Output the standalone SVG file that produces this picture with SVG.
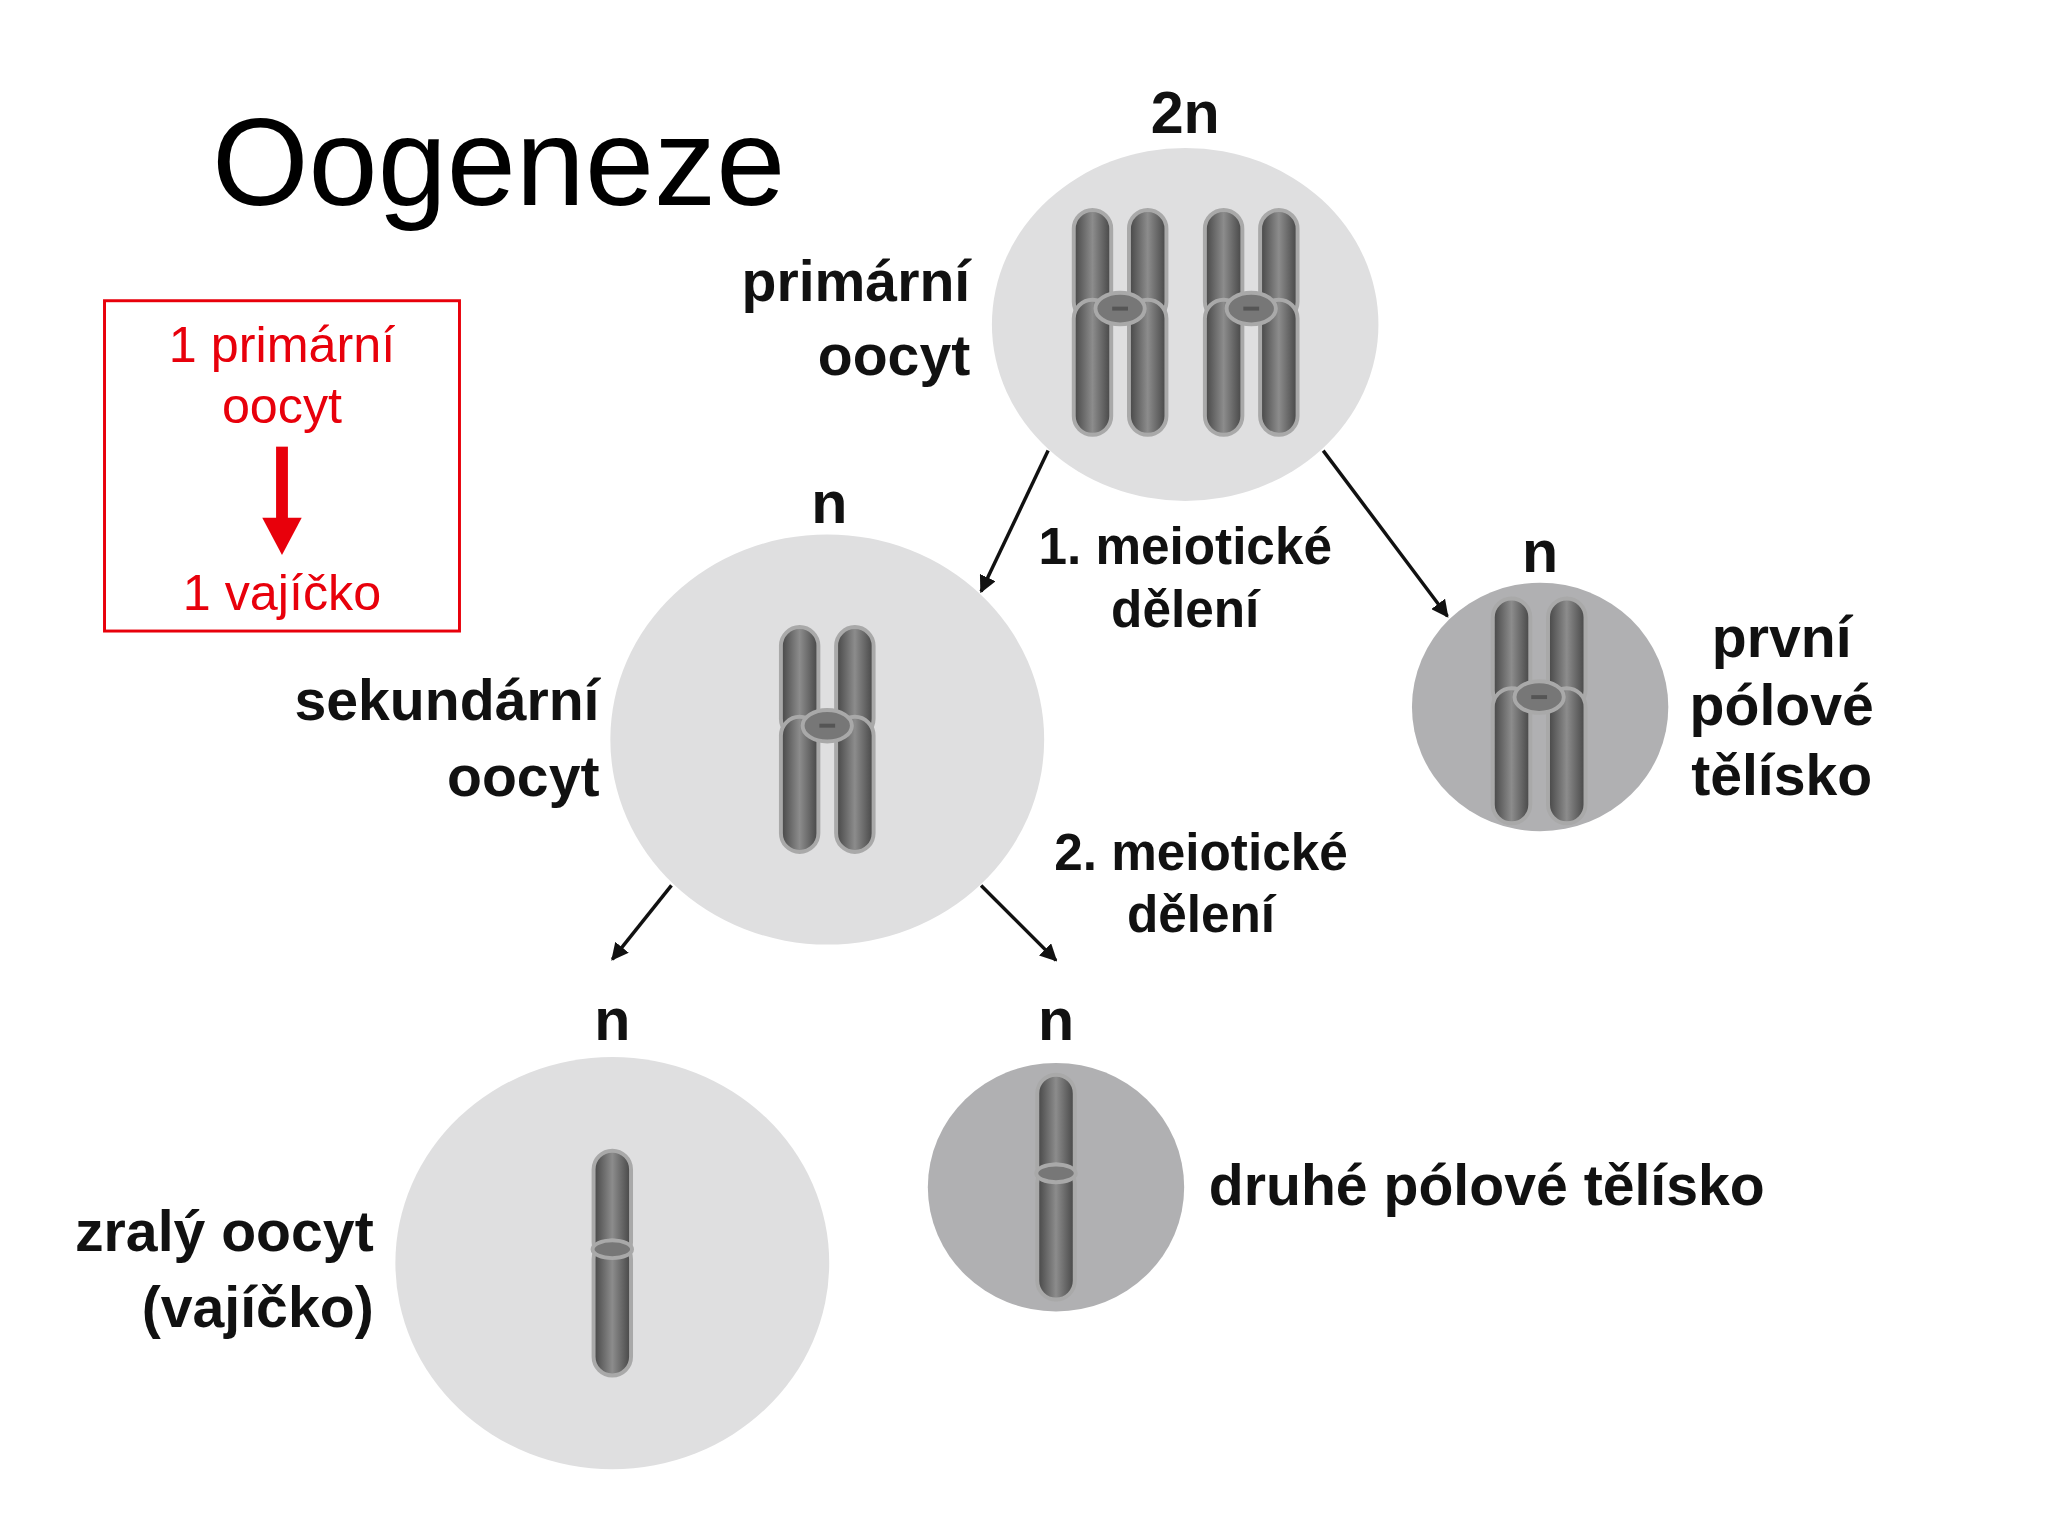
<svg xmlns="http://www.w3.org/2000/svg" xmlns:xlink="http://www.w3.org/1999/xlink" width="2048" height="1536" viewBox="0 0 2048 1536">
<style>
.b{font-family:"Liberation Sans",Arial,sans-serif;font-weight:bold;font-size:58px;fill:#111}
.n{font-size:60px}
.d{font-size:52px}
.r{font-family:"Liberation Sans",Arial,sans-serif;font-size:51px;fill:#e8000b;text-anchor:middle}
.cell{fill:#dfdfe0}
.pb{fill:#b0b0b2}
.ch{fill:url(#g);stroke:#a9a9a9;stroke-width:4}
.cm{fill:#777;stroke:#a9a9a9;stroke-width:4}
.con{stroke:#111;stroke-width:3.5;fill:none;marker-end:url(#ah)}
</style>
<defs>
<linearGradient id="g" x1="0" x2="1" y1="0" y2="0">
<stop offset="0" stop-color="#454545"/><stop offset="0.5" stop-color="#8c8c8c"/><stop offset="1" stop-color="#454545"/>
</linearGradient>
<marker id="ah" viewBox="0 0 10 10" refX="9" refY="5" markerWidth="5" markerHeight="5" orient="auto" markerUnits="strokeWidth">
<path d="M0,0 L10,5 L0,10 z" fill="#111"/>
</marker>
<g id="X">
<rect class="ch" x="-47" y="-97" width="38" height="112" rx="19"/>
<rect class="ch" x="9" y="-97" width="38" height="112" rx="19"/>
<rect class="ch" x="-47" y="-6" width="38" height="137" rx="19"/>
<rect class="ch" x="9" y="-6" width="38" height="137" rx="19"/>
<ellipse class="cm" cx="0" cy="3" rx="25" ry="16"/>
<rect x="-8" y="1" width="16" height="4" fill="#555"/>
</g>
<g id="I">
<rect class="ch" x="-19" y="-97" width="38" height="112" rx="19"/>
<rect class="ch" x="-19" y="-6" width="38" height="137" rx="19"/>
<ellipse class="cm" cx="0" cy="3" rx="20" ry="9"/>
</g>
</defs>
<rect width="2048" height="1536" fill="#fff"/>
<g transform="scale(0.986)">
<text x="215" y="208" style="font-family:'Liberation Sans',Arial,sans-serif;font-size:126px;fill:#000">Oogeneze</text>
<g id="legend">
<rect x="106" y="305" width="360" height="335" fill="none" stroke="#e8000b" stroke-width="3"/>
<text class="r" x="286" y="367">1 primární</text>
<text class="r" x="286" y="429">oocyt</text>
<rect x="280" y="453" width="12" height="75" fill="#e8000b"/>
<path d="M266,525 L306,525 L286,563 z" fill="#e8000b"/>
<text class="r" x="286" y="619">1 vajíčko</text>
</g>
<g id="connectors">
<line class="con" x1="1063" y1="457" x2="995" y2="600"/>
<line class="con" x1="1342" y1="457" x2="1468" y2="625"/>
<line class="con" x1="681" y1="898" x2="621" y2="973"/>
<line class="con" x1="995" y1="898" x2="1071" y2="974"/>
</g>
<g id="primary">
<ellipse class="cell" cx="1202" cy="329" rx="196" ry="179"/>
<use xlink:href="#X" x="1136" y="310"/>
<use xlink:href="#X" x="1269" y="310"/>
<text class="b n" x="1202" y="135" text-anchor="middle">2n</text>
<text class="b" x="984" y="305" text-anchor="end">primární</text>
<text class="b" x="984" y="380" text-anchor="end">oocyt</text>
</g>
<g id="secondary">
<ellipse class="cell" cx="839" cy="750" rx="220" ry="208"/>
<use xlink:href="#X" x="839" y="733"/>
<text class="b n" x="841" y="530" text-anchor="middle">n</text>
<text class="b" x="608" y="730" text-anchor="end">sekundární</text>
<text class="b" x="608" y="807" text-anchor="end">oocyt</text>
</g>
<g id="division1">
<text class="b d" x="1202" y="572" text-anchor="middle">1. meiotické</text>
<text class="b d" x="1202" y="636" text-anchor="middle">dělení</text>
</g>
<g id="polar1">
<ellipse class="pb" cx="1562" cy="717" rx="130" ry="126"/>
<use xlink:href="#X" x="1561" y="704"/>
<text class="b n" x="1562" y="580" text-anchor="middle">n</text>
<text class="b" x="1807" y="666" text-anchor="middle">první</text>
<text class="b" x="1807" y="735" text-anchor="middle">pólové</text>
<text class="b" x="1807" y="806" text-anchor="middle">tělísko</text>
</g>
<g id="division2">
<text class="b d" x="1218" y="882" text-anchor="middle">2. meiotické</text>
<text class="b d" x="1218" y="945" text-anchor="middle">dělení</text>
</g>
<g id="egg">
<ellipse class="cell" cx="621" cy="1281" rx="220" ry="209"/>
<use xlink:href="#I" x="621" y="1264"/>
<text class="b n" x="621" y="1055" text-anchor="middle">n</text>
<text class="b" x="379" y="1269" text-anchor="end">zralý oocyt</text>
<text class="b" x="379" y="1346" text-anchor="end">(vajíčko)</text>
</g>
<g id="polar2">
<ellipse class="pb" cx="1071" cy="1204" rx="130" ry="126"/>
<use xlink:href="#I" x="1071" y="1187"/>
<text class="b n" x="1071" y="1055" text-anchor="middle">n</text>
<text class="b" x="1226" y="1222">druhé pólové tělísko</text>
</g>
</g>
</svg>
